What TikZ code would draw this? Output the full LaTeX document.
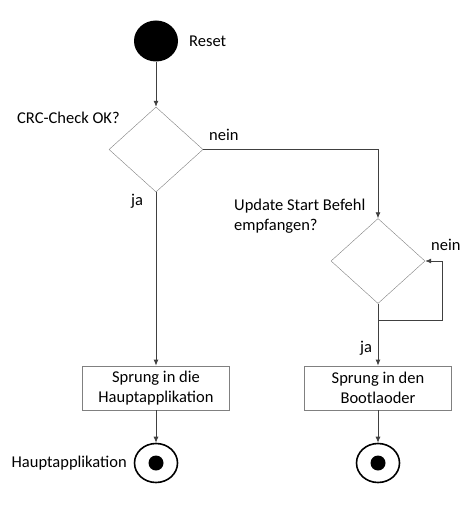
\documentclass[tikz,border=0pt]{standalone}
\usepackage{fontspec}
\setmainfont{Carlito}
\usetikzlibrary{shapes.geometric,arrows.meta}

\begin{document}
\begin{tikzpicture}
    [
        x = 1pt, y = -1pt,
        font = \fontsize{16.5}{20.5}\selectfont,
        arr/.style = {draw = black!75, line width = 0.8pt, -{Latex[length = 6pt, width = 5pt]}},
        decision/.style = {draw = gray, diamond, minimum width = 94pt, minimum height = 85pt, inner sep = 0pt},
        action/.style = {draw = gray, line width = 0.8pt, minimum width = 147pt, minimum height = 44pt, align = center, inner sep = 1pt},
        initial/.style = {fill, ellipse, minimum width = 44pt, minimum height = 41pt, inner sep = 0pt},
        final/.style = {draw, line width = 1.6pt, ellipse, minimum width = 43pt, minimum height = 39pt, inner sep = 0pt,
            path picture = {\fill (path picture bounding box.center) circle (7.5pt);}},
        lbl/.style = {inner sep = 0pt}
    ]

    \useasboundingbox (0,0) rectangle (474,526);

    % nodes
    \node[initial] (reset) at (156,41) {};
    \node[decision] (crc) at (156,149.5) {};
    \node[decision] (upd) at (378,261) {};
    \node[action] (haupt) at (156,388) {Sprung in die\\Hauptapplikation};
    \node[action] (boot) at (378,388) {Sprung in den\\Bootlaoder};
    \node[final] (endhaupt) at (156,463) {};
    \node[final] (endboot) at (378,463) {};

    % labels
    \node[lbl, anchor = west] (lreset) at (189,41) {Reset};
    \node[lbl, anchor = west] (lcrc) at (17,118) {CRC-Check OK?};
    \node[lbl, anchor = west] (lcrcno) at (209,135) {nein};
    \node[lbl] (lcrcyes) at (137,201) {ja};
    \node[lbl, anchor = west, align = left] (lupd) at (234,216) {Update Start Befehl\\empfangen?};
    \node[lbl, anchor = west] (lupdno) at (431,245) {nein};
    \node[lbl] (lupdyes) at (366,348) {ja};
    \node[lbl, anchor = east] (lend) at (127,463) {Hauptapplikation};

    % connectors
    \coordinate (loopa) at (378,320);
    \coordinate (loopb) at (442,320);

    \draw[arr] (reset) -- (crc.north);
    \draw[arr] (crc.east) -| (upd.north);
    \draw[arr] (crc.south) -- (haupt.north);
    \draw[arr] (upd.south) -- (loopa) -- (loopb) |- (upd.east);
    \draw[arr] (loopa) -- (boot.north);
    \draw[arr] (haupt.south) -- (endhaupt.north);
    \draw[arr] (boot.south) -- (endboot.north);
\end{tikzpicture}
\end{document}
